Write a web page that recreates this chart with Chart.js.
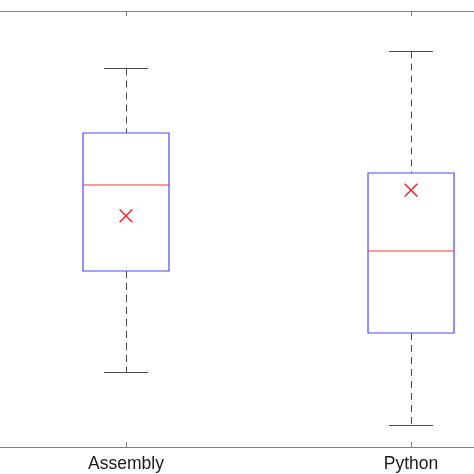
<!DOCTYPE html>
<html>
<head>
<meta charset="utf-8">
<script src="https://cdn.jsdelivr.net/npm/chart.js@4"></script>
<style>
  html, body { margin: 0; padding: 0; background: #fff; }
  #wrap { width: 474px; height: 474px; }
</style>
</head>
<body>
<div id="wrap"><canvas id="boxChart"></canvas></div>
<script>
const categories = ["Assembly", "Python"];
const whiskerHigh = [87.0, 90.9];
const upperQuartile = [72.0, 62.8];
const medians = [60.1, 45.0];
const means = [53.0, 58.9];
const lowerQuartile = [40.4, 26.1];
const whiskerLow = [17.2, 5.0];

const BOX_HALF = 0.151;   // x units
const CAP_HALF = 0.077;

// Draw boxes, whiskers and medians through the chart's scales
const boxPlugin = {
    id: "boxes",
    beforeDatasetsDraw(chart) {
        const { ctx, scales: { x, y }, chartArea } = chart;
        ctx.save();

        // frame: top line + inward ticks
        ctx.strokeStyle = "#808080";
        ctx.lineWidth = 1;
        ctx.beginPath();
        ctx.moveTo(chartArea.left, chartArea.top + 0.5);
        ctx.lineTo(chartArea.right, chartArea.top + 0.5);
        categories.forEach((c, i) => {
            const px = Math.round(x.getPixelForValue(i + 1)) + 0.5;
            ctx.moveTo(px, chartArea.top);
            ctx.lineTo(px, chartArea.top + 5);
            ctx.moveTo(px, chartArea.bottom);
            ctx.lineTo(px, chartArea.bottom - 5);
        });
        ctx.stroke();

        categories.forEach((c, i) => {
            const cx = Math.round(x.getPixelForValue(i + 1)) + 0.5;
            const bl = Math.round(x.getPixelForValue(i + 1 - BOX_HALF));
            const br = Math.round(x.getPixelForValue(i + 1 + BOX_HALF));
            const cl = x.getPixelForValue(i + 1 - CAP_HALF);
            const cr = x.getPixelForValue(i + 1 + CAP_HALF);
            const yHi = Math.round(y.getPixelForValue(whiskerHigh[i])) + 0.5;
            const yQ3 = Math.round(y.getPixelForValue(upperQuartile[i]));
            const yMed = Math.round(y.getPixelForValue(medians[i]));
            const yQ1 = Math.round(y.getPixelForValue(lowerQuartile[i]));
            const yLo = Math.round(y.getPixelForValue(whiskerLow[i])) + 0.5;

            // whiskers (dashed)
            ctx.strokeStyle = "#4a4a4a";
            ctx.lineWidth = 1;
            ctx.setLineDash([7, 5]);
            ctx.beginPath();
            ctx.moveTo(cx, yHi);
            ctx.lineTo(cx, yQ3);
            ctx.moveTo(cx, yQ1);
            ctx.lineTo(cx, yLo);
            ctx.stroke();
            ctx.setLineDash([]);

            // caps
            ctx.beginPath();
            ctx.moveTo(cl, yHi);
            ctx.lineTo(cr, yHi);
            ctx.moveTo(cl, yLo);
            ctx.lineTo(cr, yLo);
            ctx.stroke();

            // box
            ctx.strokeStyle = "#4a4af8";
            ctx.lineWidth = 1.2;
            ctx.beginPath();
            ctx.rect(bl, yQ3, br - bl, yQ1 - yQ3);
            ctx.stroke();

            // median
            ctx.strokeStyle = "#f83a3a";
            ctx.beginPath();
            ctx.moveTo(bl, yMed);
            ctx.lineTo(br, yMed);
            ctx.stroke();
        });
        ctx.restore();
    }
};

new Chart(document.getElementById("boxChart"), {
    type: "scatter",
    data: {
        datasets: [{
            label: "Mean",
            data: means.map((m, i) => ({ x: i + 1, y: m })),
            pointStyle: "crossRot",
            radius: 9,
            hoverRadius: 9,
            borderColor: "#e8262e",
            borderWidth: 1.5
        }]
    },
    options: {
        responsive: true,
        maintainAspectRatio: false,
        animation: false,
        layout: { autoPadding: false, padding: { top: 11, left: 0, right: 0, bottom: 0 } },
        plugins: {
            legend: { display: false },
            tooltip: { enabled: false }
        },
        scales: {
            x: {
                type: "linear",
                min: 0.558,
                max: 2.221,
                afterBuildTicks: axis => {
                    axis.ticks = categories.map((c, i) => ({ value: i + 1 }));
                },
                afterFit: axis => { axis.height = 27; },
                grid: { display: false, drawTicks: false },
                border: { display: true, color: "#808080", width: 1 },
                ticks: {
                    padding: 7,
                    color: "#1a1a1a",
                    font: { family: "Liberation Sans, Arial", size: 17.5 },
                    callback: v => categories[v - 1] || ""
                }
            },
            y: {
                display: false,
                min: 0,
                max: 100
            }
        }
    },
    plugins: [boxPlugin]
});
</script>
</body>
</html>
